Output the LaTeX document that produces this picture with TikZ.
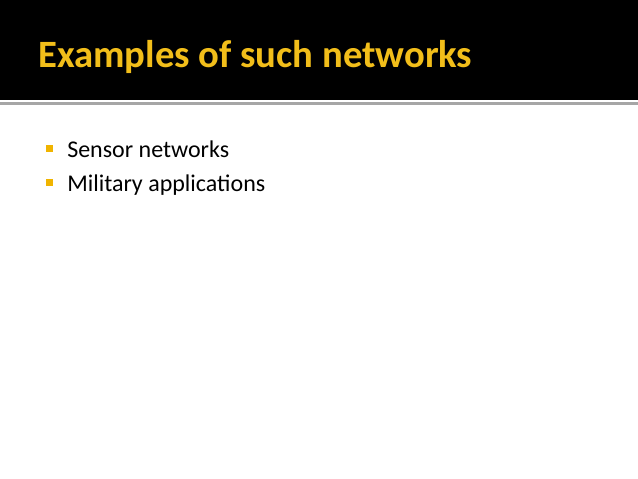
\documentclass[tikz,border=0pt]{standalone}
\usepackage{fontspec}
\setmainfont{Carlito}
\definecolor{ttl}{HTML}{F2BE1A}
\definecolor{bul}{HTML}{F0B400}
\tikzset{bullettext/.style={anchor=base west,inner sep=0pt,font=\fontsize{18}{20}\selectfont},
bulsq/.style={fill=bul,minimum size=5.5pt,inner sep=0pt}}
\begin{document}
\begin{tikzpicture}[x=0.75pt,y=-0.75pt]
\useasboundingbox (0,0) rectangle (638,478);
\fill[white] (0,0) rectangle (638,478);
\fill[black] (0,0) rectangle (638,100);
\fill[gray!70] (0,102) rectangle (638,104.5);
\node[anchor=base west,inner sep=0pt,text=ttl,font=\fontsize{29}{32}\selectfont\bfseries] (t) at (38,68) {Examples of such networks};
\node[bulsq] (b1) at (49.5,148.5) {};
\node[bullettext] (s1) at (67,157) {Sensor networks};
\node[bulsq] (b2) at (49.5,182.5) {};
\node[bullettext] (s2) at (67,191) {Military applications};
\end{tikzpicture}
\end{document}
